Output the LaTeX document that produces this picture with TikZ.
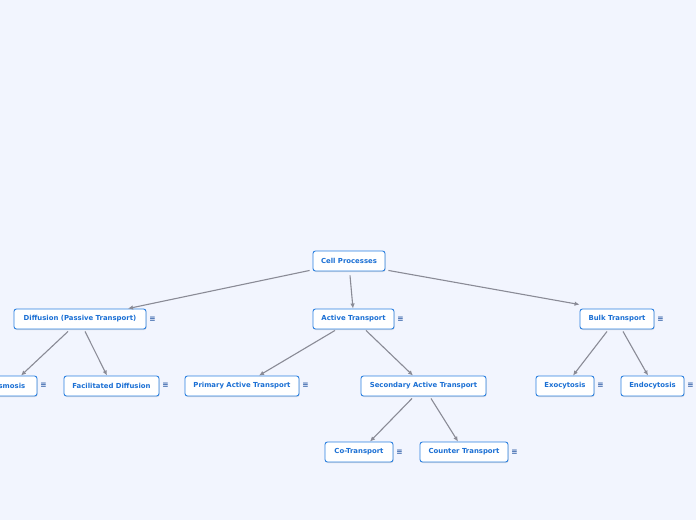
\documentclass[tikz,border=0pt]{standalone}
\usepackage{fontspec}
\setmainfont{DejaVu Sans}
\usetikzlibrary{shadows,arrows.meta,calc}
\definecolor{bg}{HTML}{F2F5FE}
\definecolor{boxline}{HTML}{2B80E0}
\definecolor{boxtext}{HTML}{1A6FD4}
\definecolor{conn}{HTML}{8A8B96}
\definecolor{icon}{HTML}{2F5EA8}
\tikzset{
  topic/.style={draw=boxline, line width=0.9pt, fill=white, rounded corners=2.5pt,
    minimum height=20pt, inner sep=0pt, text=boxtext,
    font=\fontsize{6.9}{7}\selectfont\bfseries,
    drop shadow={shadow xshift=0.6pt, shadow yshift=-1pt, fill=black!25, opacity=0.5}},
  link/.style={draw=conn, line width=1.1pt, -{Latex[length=5pt,width=4.5pt]}},
  menu/.style={text=icon, font=\fontsize{7.5}{7.5}\selectfont\bfseries, inner sep=0pt}
}
\begin{document}
\begin{tikzpicture}[x=1pt,y=-1pt]
\clip (0,0) rectangle (696,520);
\fill[bg] (0,0) rectangle (696,520);

\node[topic, minimum width=72pt] (cp) at (349,261) {Cell Processes};
\node[topic, minimum width=132pt] (diff) at (80,319) {Diffusion (Passive Transport)};
\node[topic, minimum width=81pt] (act) at (353.5,319) {Active Transport};
\node[topic, minimum width=74pt] (bulk) at (617,319) {Bulk Transport};
\node[topic, minimum width=56pt] (osm) at (9,386) {Osmosis};
\node[topic, minimum width=95pt] (fac) at (111.5,386) {Facilitated Diffusion};
\node[topic, minimum width=114pt] (prim) at (242,386) {Primary Active Transport};
\node[topic, minimum width=125pt] (sec) at (423.5,386) {Secondary Active Transport};
\node[topic, minimum width=58pt] (exo) at (565,386) {Exocytosis};
\node[topic, minimum width=63pt] (endo) at (652.5,386) {Endocytosis};
\node[topic, minimum width=68pt] (co) at (359,452) {Co-Transport};
\node[topic, minimum width=88pt] (counter) at (464,452) {Counter Transport};

\node[menu] (m1) at (152.5,319.5) {≡};
\node[menu] (m2) at (400.5,319.5) {≡};
\node[menu] (m3) at (660.5,319.5) {≡};
\node[menu] (m4) at (43.5,385.5) {≡};
\node[menu] (m5) at (165.5,385.5) {≡};
\node[menu] (m6) at (305.5,385.5) {≡};
\node[menu] (m7) at (600.5,385.5) {≡};
\node[menu] (m8) at (690.5,385.5) {≡};
\node[menu] (m9) at (399.5,452.5) {≡};
\node[menu] (m10) at (514.5,452.5) {≡};

\draw[link] ([shift={(-3,-1)}]cp.south west) -- ([xshift=48pt]diff.north);
\draw[link] ([shift={(1,4)}]cp.south) -- ([xshift=-0.5pt]act.north);
\draw[link] ([shift={(3,-1)}]cp.south east) -- ([yshift=4]bulk.north west);
\draw[link] ([shift={(-12,2)}]diff.south) -- ([xshift=12pt]osm.north);
\draw[link] ([shift={(5,2)}]diff.south) -- ([xshift=-4.5pt]fac.north);
\draw[link] ([shift={(-18.5,1)}]act.south) -- ([xshift=17pt]prim.north);
\draw[link] ([shift={(12.5,1)}]act.south) -- ([xshift=-10.5pt]sec.north);
\draw[link] ([shift={(-11.5,2)}]sec.south) -- ([xshift=11pt]co.north);
\draw[link] ([shift={(7.5,2)}]sec.south) -- ([xshift=-6pt]counter.north);
\draw[link] ([shift={(-10,2)}]bulk.south) -- ([xshift=8pt]exo.north);
\draw[link] ([shift={(6,2)}]bulk.south) -- ([xshift=-4.5pt]endo.north);
\end{tikzpicture}
\end{document}
